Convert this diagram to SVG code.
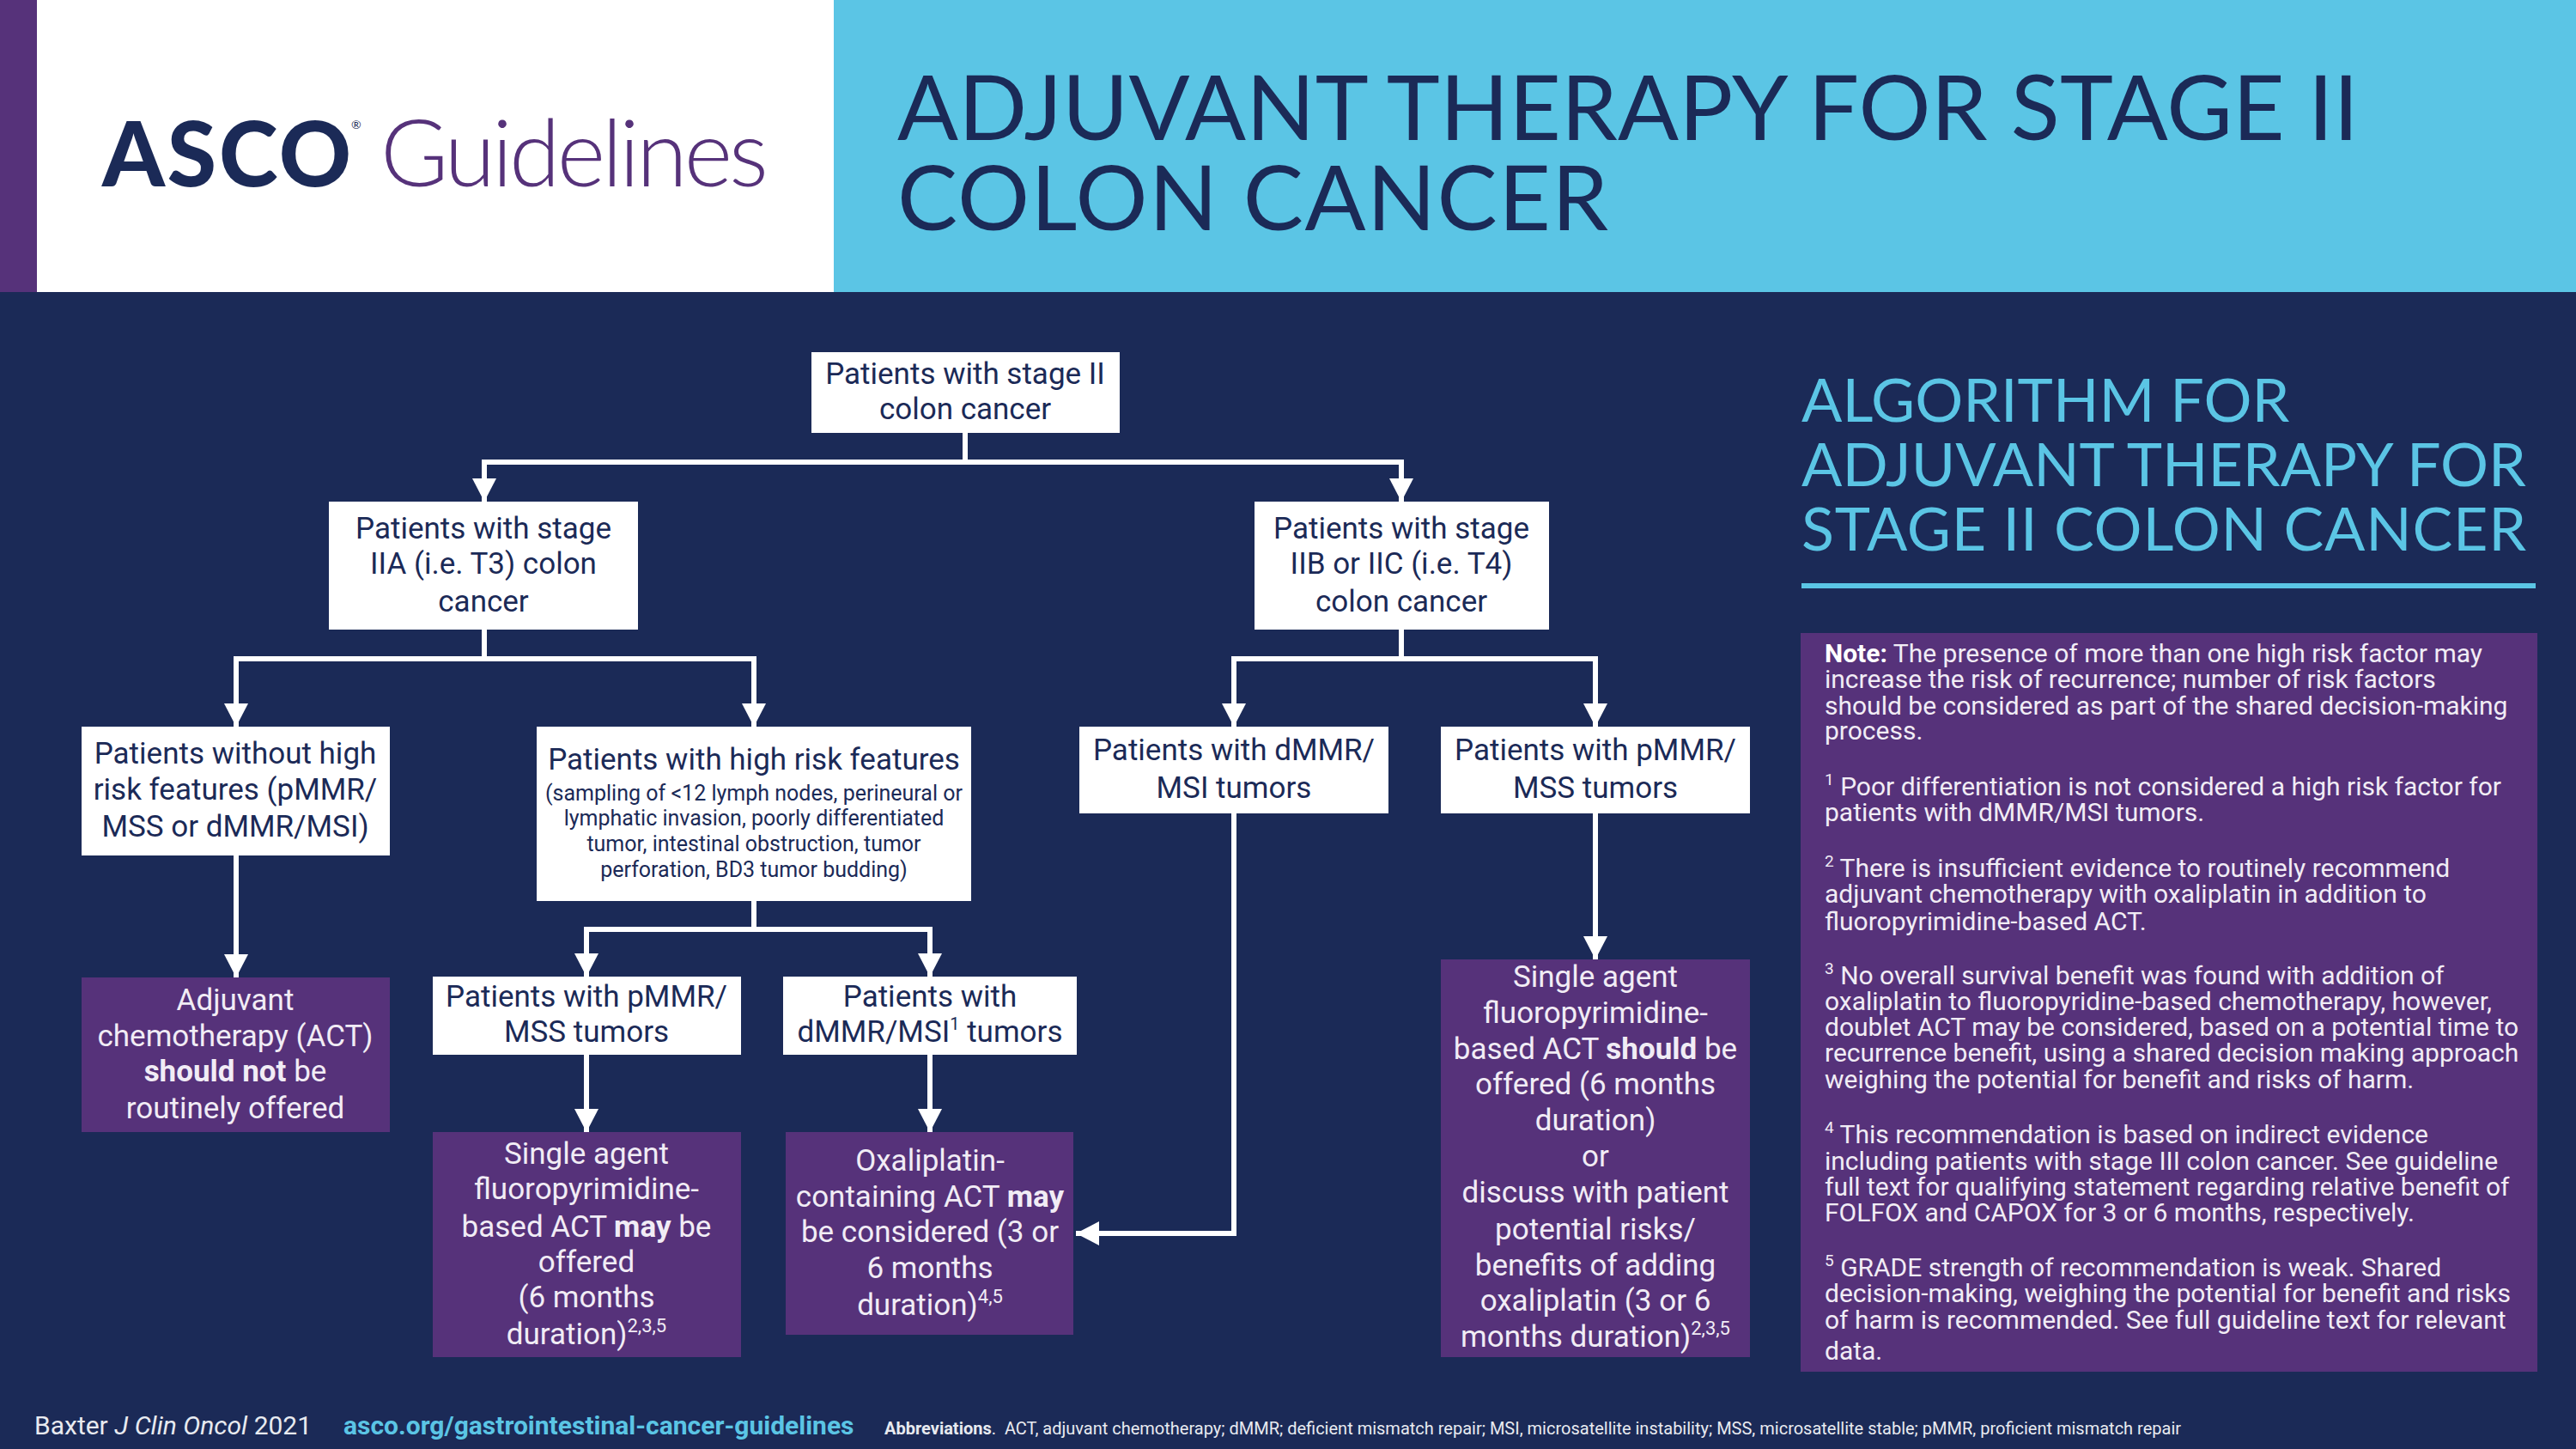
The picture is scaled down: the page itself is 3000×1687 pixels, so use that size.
<svg xmlns="http://www.w3.org/2000/svg" width="3000" height="1687" viewBox="0 0 3000 1687">
<style>
text{font-family:Roboto,"Liberation Sans",sans-serif}
.w{fill:#fff}.p{fill:#56327A}
.n{font-size:35px;text-anchor:middle;fill:#1B2A57}
.m{font-size:35px;text-anchor:middle;fill:#F1ECF5}
.s{font-size:25px;text-anchor:middle;fill:#1B2A57}
.r{font-size:30px;fill:#F1ECF5}
.t{font-family:Lato,"Liberation Sans",sans-serif}
.b{font-weight:700}
.c{fill:none;stroke:#fff;stroke-width:6}
</style>
<defs><marker id="a" markerUnits="userSpaceOnUse" markerWidth="30" markerHeight="30" refX="27" refY="14" orient="auto"><path d="M0 0L27 14L0 28L0 0Z" fill="#fff"/></marker></defs>
<rect width="3000" height="1687" fill="#1B2A57"/>
<g id="header">
<rect width="43" height="340" fill="#56327A"/>
<rect x="43" width="928" height="340" fill="#fff"/>
<rect x="971" width="2029" height="340" fill="#5BC5E5"/>
<text class="t" x="119" y="217" font-size="104" font-weight="900" fill="#1B2A57" textLength="290">ASCO</text>
<text class="t" x="409" y="150" font-size="14" fill="#1B2A57">®</text>
<text class="t" x="443" y="217" font-size="108" font-weight="300" fill="#56327A" textLength="452">Guidelines</text>
<text class="t" x="1045" y="163" font-size="105" fill="#1B2A57" textLength="1702">ADJUVANT THERAPY FOR STAGE II</text>
<text class="t" x="1045" y="268" font-size="105" fill="#1B2A57" textLength="828">COLON CANCER</text>
</g>
<g id="connectors">
<path class="c" d="M1124 504V538"/>
<path class="c" d="M1124 538H564V584" marker-end="url(#a)"/>
<path class="c" d="M1124 538H1632V584" marker-end="url(#a)"/>
<path class="c" d="M564 733V767"/>
<path class="c" d="M564 767H275V846" marker-end="url(#a)"/>
<path class="c" d="M564 767H878V846" marker-end="url(#a)"/>
<path class="c" d="M1632 733V767"/>
<path class="c" d="M1632 767H1437V846" marker-end="url(#a)"/>
<path class="c" d="M1632 767H1858V846" marker-end="url(#a)"/>
<path class="c" d="M275 996V1138" marker-end="url(#a)"/>
<path class="c" d="M878 1049V1082"/>
<path class="c" d="M878 1082H683V1137" marker-end="url(#a)"/>
<path class="c" d="M878 1082H1083V1137" marker-end="url(#a)"/>
<path class="c" d="M683 1228V1318" marker-end="url(#a)"/>
<path class="c" d="M1083 1228V1318" marker-end="url(#a)"/>
<path class="c" d="M1437 947V1436H1253" marker-end="url(#a)"/>
<path class="c" d="M1858 947V1117" marker-end="url(#a)"/>
</g>
<g id="n-top"><rect class="w" x="945" y="410" width="359" height="94"/>
<text class="n" x="1124" y="447">Patients with stage II</text><text class="n" x="1124" y="488">colon cancer</text></g>
<g id="n-iia"><rect class="w" x="383" y="584" width="360" height="149"/>
<text class="n" x="563" y="627">Patients with stage</text><text class="n" x="563" y="668">IIA (i.e. T3) colon</text><text class="n" x="563" y="712">cancer</text></g>
<g id="n-iib"><rect class="w" x="1461" y="584" width="343" height="149"/>
<text class="n" x="1632" y="627">Patients with stage</text><text class="n" x="1632" y="668">IIB or IIC (i.e. T4)</text><text class="n" x="1632" y="712">colon cancer</text></g>
<g id="n-nohigh"><rect class="w" x="95" y="846" width="359" height="150"/>
<text class="n" x="274" y="889">Patients without high</text><text class="n" x="274" y="931">risk features (pMMR/</text><text class="n" x="274" y="974">MSS or dMMR/MSI)</text></g>
<g id="n-high"><rect class="w" x="625" y="846" width="506" height="203"/>
<text class="n" x="878" y="896">Patients with high risk features</text>
<text class="s" x="878" y="932">(sampling of &lt;12 lymph nodes, perineural or</text>
<text class="s" x="878" y="961">lymphatic invasion, poorly differentiated</text>
<text class="s" x="878" y="991">tumor, intestinal obstruction, tumor</text>
<text class="s" x="878" y="1021">perforation, BD3 tumor budding)</text></g>
<g id="n-dmmr-r"><rect class="w" x="1257" y="846" width="360" height="101"/>
<text class="n" x="1437" y="885">Patients with dMMR/</text><text class="n" x="1437" y="929">MSI tumors</text></g>
<g id="n-pmmr-r"><rect class="w" x="1678" y="846" width="360" height="101"/>
<text class="n" x="1858" y="885">Patients with pMMR/</text><text class="n" x="1858" y="929">MSS tumors</text></g>
<g id="n-adj"><rect class="p" x="95" y="1138" width="359" height="180"/>
<text class="m" x="274" y="1176">Adjuvant</text><text class="m" x="274" y="1218">chemotherapy (ACT)</text><text class="m" x="274" y="1259"><tspan class="b">should not</tspan> be</text><text class="m" x="274" y="1302">routinely offered</text></g>
<g id="n-pmmr"><rect class="w" x="504" y="1137" width="359" height="91"/>
<text class="n" x="683" y="1172">Patients with pMMR/</text><text class="n" x="683" y="1213">MSS tumors</text></g>
<g id="n-dmmr"><rect class="w" x="912" y="1137" width="342" height="91"/>
<text class="n" x="1083" y="1172">Patients with</text><text class="n" x="1083" y="1213">dMMR/MSI<tspan font-size="20" dy="-14">1</tspan><tspan dy="14"> tumors</tspan></text></g>
<g id="n-single"><rect class="p" x="504" y="1318" width="359" height="262"/>
<text class="m" x="683" y="1355">Single agent</text><text class="m" x="683" y="1396">fluoropyrimidine-</text><text class="m" x="683" y="1440">based ACT <tspan class="b">may</tspan> be</text><text class="m" x="683" y="1481">offered</text><text class="m" x="683" y="1522">(6 months</text><text class="m" x="683" y="1565">duration)<tspan font-size="22" dy="-14">2,3,5</tspan></text></g>
<g id="n-oxal"><rect class="p" x="915" y="1318" width="335" height="236"/>
<text class="m" x="1083" y="1363">Oxaliplatin-</text><text class="m" x="1083" y="1405">containing ACT <tspan class="b">may</tspan></text><text class="m" x="1083" y="1446">be considered (3 or</text><text class="m" x="1083" y="1488">6 months</text><text class="m" x="1083" y="1531">duration)<tspan font-size="22" dy="-14">4,5</tspan></text></g>
<g id="n-rec"><rect class="p" x="1678" y="1117" width="360" height="463"/>
<text class="m" x="1858" y="1149">Single agent</text><text class="m" x="1858" y="1191">fluoropyrimidine-</text><text class="m" x="1858" y="1233">based ACT <tspan class="b">should</tspan> be</text><text class="m" x="1858" y="1274">offered (6 months</text><text class="m" x="1858" y="1316">duration)</text><text class="m" x="1858" y="1358">or</text><text class="m" x="1858" y="1400">discuss with patient</text><text class="m" x="1858" y="1443">potential risks/</text><text class="m" x="1858" y="1485">benefits of adding</text><text class="m" x="1858" y="1526">oxaliplatin (3 or 6</text><text class="m" x="1858" y="1568">months duration)<tspan font-size="22" dy="-14">2,3,5</tspan></text></g>
<g id="side">
<text class="t" x="2098" y="491" font-size="70" fill="#5BC5E5">ALGORITHM FOR</text>
<text class="t" x="2098" y="566" font-size="70" fill="#5BC5E5">ADJUVANT THERAPY FOR</text>
<text class="t" x="2098" y="641" font-size="70" fill="#5BC5E5" textLength="844">STAGE II COLON CANCER</text>
<path d="M2098 682H2953" stroke="#5BC5E5" stroke-width="6"/>
</g>
<g id="notes"><rect class="p" x="2097" y="737" width="858" height="860"/>
<text class="r" x="2125" y="771"><tspan class="b" fill="#fff">Note:</tspan> The presence of more than one high risk factor may</text>
<text class="r" x="2125" y="801">increase the risk of recurrence; number of risk factors</text>
<text class="r" x="2125" y="832">should be considered as part of the shared decision-making</text>
<text class="r" x="2125" y="861">process.</text>
<text class="r" x="2125" y="926"><tspan font-size="19" dy="-12">1</tspan><tspan dy="12"> Poor differentiation is not considered a high risk factor for</tspan></text>
<text class="r" x="2125" y="956">patients with dMMR/MSI tumors.</text>
<text class="r" x="2125" y="1021"><tspan font-size="19" dy="-12">2</tspan><tspan dy="12"> There is insufficient evidence to routinely recommend</tspan></text>
<text class="r" x="2125" y="1051">adjuvant chemotherapy with oxaliplatin in addition to</text>
<text class="r" x="2125" y="1083">fluoropyrimidine-based ACT.</text>
<text class="r" x="2125" y="1146"><tspan font-size="19" dy="-12">3</tspan><tspan dy="12"> No overall survival benefit was found with addition of</tspan></text>
<text class="r" x="2125" y="1176">oxaliplatin to fluoropyridine-based chemotherapy, however,</text>
<text class="r" x="2125" y="1206">doublet ACT may be considered, based on a potential time to</text>
<text class="r" x="2125" y="1236">recurrence benefit, using a shared decision making approach</text>
<text class="r" x="2125" y="1267">weighing the potential for benefit and risks of harm.</text>
<text class="r" x="2125" y="1331"><tspan font-size="19" dy="-12">4</tspan><tspan dy="12"> This recommendation is based on indirect evidence</tspan></text>
<text class="r" x="2125" y="1362">including patients with stage III colon cancer. See guideline</text>
<text class="r" x="2125" y="1392">full text for qualifying statement regarding relative benefit of</text>
<text class="r" x="2125" y="1422">FOLFOX and CAPOX for 3 or 6 months, respectively.</text>
<text class="r" x="2125" y="1486"><tspan font-size="19" dy="-12">5</tspan><tspan dy="12"> GRADE strength of recommendation is weak. Shared</tspan></text>
<text class="r" x="2125" y="1516">decision-making, weighing the potential for benefit and risks</text>
<text class="r" x="2125" y="1547">of harm is recommended. See full guideline text for relevant</text>
<text class="r" x="2125" y="1583">data.</text>
</g>
<g id="footer">
<text x="40" y="1670" font-size="30" fill="#E8EAF0">Baxter <tspan font-style="italic">J Clin Oncol</tspan> 2021</text>
<text x="400" y="1670" font-size="30" font-weight="700" fill="#5BC5E5">asco.org/gastrointestinal-cancer-guidelines</text>
<text x="1030" y="1670" font-size="20" fill="#E8EAF0"><tspan class="b">Abbreviations</tspan>.&#160; ACT, adjuvant chemotherapy; dMMR; deficient mismatch repair; MSI, microsatellite instability; MSS, microsatellite stable; pMMR, proficient mismatch repair</text>
</g>
</svg>
